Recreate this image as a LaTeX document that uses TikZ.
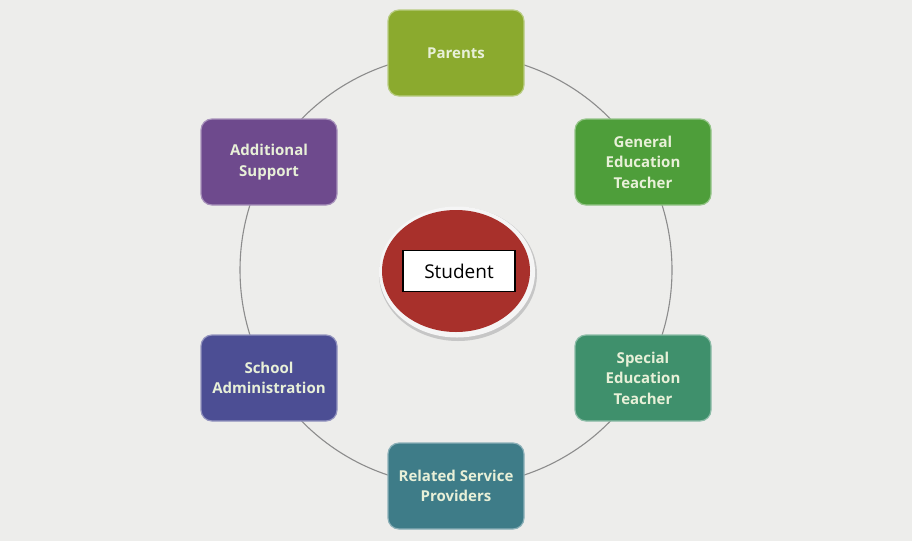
\documentclass[tikz,border=0pt]{standalone}
\usepackage{fontspec}
\setmainfont{Open Sans}
\usetikzlibrary{shapes.geometric}
\definecolor{bg}{HTML}{EDEDEB}
\definecolor{cParents}{HTML}{8BAA2E}
\definecolor{cGen}{HTML}{4E9E3A}
\definecolor{cSpec}{HTML}{3F906C}
\definecolor{cRel}{HTML}{3E7C88}
\definecolor{cSch}{HTML}{4C4E94}
\definecolor{cAdd}{HTML}{6E4A8D}
\definecolor{cRed}{HTML}{A8302B}
\definecolor{txt}{HTML}{E8F0D8}
\begin{document}
\begin{tikzpicture}[x=1pt,y=-1pt,
  rolebox/.style={draw=#1!60!white, line width=1.2pt, fill=#1, rounded corners=11pt,
    minimum width=136pt, minimum height=86pt, align=center,
    text=txt, font=\bfseries\fontsize{15}{20.5}\selectfont, inner sep=2pt},
  ring/.style={draw=gray!90, line width=1.1pt}]
\fill[bg] (0,0) rectangle (912,541);
\useasboundingbox (0,0) rectangle (912,541);
\draw[ring] (456,270) circle (216);
\node[rolebox=cParents] (par) at (456,53) {Parents};
\node[rolebox=cGen] (gen) at (643,162) {General\\Education\\Teacher};
\node[rolebox=cSpec] (spe) at (643,378) {Special\\Education\\Teacher};
\node[rolebox=cRel] (rel) at (456,486) {Related Service\\Providers};
\node[rolebox=cSch] (sch) at (269,378) {School\\Administration};
\node[rolebox=cAdd] (add) at (269,162) {Additional\\Support};
\node[ellipse, fill=gray!45, minimum width=158pt, minimum height=134pt] (shadow) at (458,274) {};
\node[ellipse, fill=white!92!gray, minimum width=156pt, minimum height=131pt] (rim) at (457,272) {};
\node[ellipse, fill=cRed, minimum width=148pt, minimum height=122pt] (stu) at (456,271) {};
\node[draw=black, line width=1.3pt, fill=white, minimum width=112pt, minimum height=41pt,
  font=\fontsize{19}{22}\selectfont] (lab) at (459,271) {Student};
\end{tikzpicture}
\end{document}
